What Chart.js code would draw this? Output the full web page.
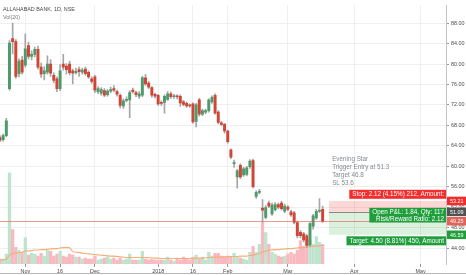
<!DOCTYPE html>
<html lang="en">
<head>
  <meta charset="UTF-8" />
  <title>ALLAHABAD BANK, 1D, NSE</title>
  <script src="https://cdn.jsdelivr.net/npm/chart.js"></script>
  <style>
    html, body { margin: 0; padding: 0; background: #fff; }
    .wrap { width: 466px; height: 275px; }
  </style>
</head>
<body>
<div class="wrap"><canvas id="chart" width="466" height="275"></canvas></div>

<script>
  // Trading sessions shown on the time axis (past bars + projected future bars)
  const tradingDays = [
    ['2017-10', [19, 23, 24, 25, 26, 27, 30, 31]],
    ['2017-11', [1, 2, 3, 6, 7, 8, 9, 10, 13, 14, 15, 16, 17, 20, 21, 22, 23, 24, 27, 28, 29, 30]],
    ['2017-12', [1, 4, 5, 6, 7, 8, 11, 12, 13, 14, 15, 18, 19, 20, 21, 22, 26, 27, 28, 29]],
    ['2018-01', [1, 2, 3, 4, 5, 8, 9, 10, 11, 12, 15, 16, 17, 18, 19, 22, 23, 24, 25, 29, 30, 31]],
    ['2018-02', [1, 2, 5, 6, 7, 8, 9, 12, 14, 15, 16, 19, 20, 21, 22, 23, 26, 27, 28]],
    ['2018-03', [1, 5, 6, 7, 8, 9, 12, 13, 14, 15, 16, 19, 20, 21, 22, 23, 26, 27, 28, 29, 30]],
    ['2018-04', [2, 3, 4, 5, 6, 9, 10, 11, 12, 13, 16, 17, 18, 19, 20, 23, 24, 25, 26, 27, 30]],
    ['2018-05', [1, 2, 3, 4, 7, 8, 9, 10, 11]]
  ];

  const tickDates = ['2017-11-01', '2017-11-16', '2017-12-01', '2018-01-01', '2018-01-16', '2018-02-01', '2018-03-01', '2018-04-02', '2018-05-01'];
  const tickTexts = ['Nov', '16', 'Dec', '2018', '16', 'Feb', 'Mar', 'Apr', 'May'];
  const priceTicks = [44, 48, 52, 56, 60, 64, 68, 72, 76, 80, 84, 88];

  // OHLC, one value per session starting 2017-10-19
  const opens = [65.6, 65.2, 66.0, 75.2, 85.0, 84.4, 78.1, 80.8, 79.8, 83.6,
    81.5, 81.9, 82.9, 79.4, 78.1, 78.4, 80.0, 77.8, 77.1, 75.2,
    80.0, 79.6, 80.0, 78.7, 78.3, 78.9, 78.4, 79.0, 78.4, 77.1,
    77.5, 74.6, 74.3, 74.8, 74.0, 74.7, 75.2, 74.6, 73.9, 71.8,
    72.9, 73.0, 74.9, 74.4, 73.7, 73.9, 77.3, 76.3, 75.4, 74.1,
    73.9, 72.5, 72.5, 73.1, 74.2, 73.6, 73.8, 73.7, 72.6, 72.3,
    72.0, 72.2, 68.8, 73.0, 70.2, 70.6, 70.9, 72.6, 73.9, 70.6,
    68.5, 68.2, 66.9, 63.2, 60.5, 57.9, 60.2, 58.3, 58.4, 59.9,
    61.1, 54.1, 54.9, 51.8, 50.0, 52.8, 50.7, 51.5, 52.5, 52.8,
    51.2, 52.0, 51.1, 50.9, 49.0, 47.1, 46.8, 46.4, 44.6, 48.3,
    49.9, 51.2, 51.6];
  const highs = [66.0, 66.3, 69.4, 84.6, 88.0, 84.8, 81.0, 81.5, 85.9, 84.3,
    82.6, 83.3, 83.5, 80.2, 79.5, 81.6, 80.9, 78.3, 77.5, 79.9,
    81.9, 80.1, 80.6, 79.0, 79.2, 79.4, 79.2, 79.4, 78.7, 77.5,
    77.8, 75.6, 75.4, 75.2, 75.0, 75.5, 75.8, 74.9, 74.2, 73.2,
    73.6, 74.8, 75.3, 74.7, 74.6, 77.6, 78.0, 76.6, 75.6, 74.3,
    74.1, 72.8, 74.0, 74.6, 74.5, 74.1, 74.0, 74.0, 72.9, 72.6,
    72.2, 72.4, 72.3, 73.3, 71.2, 71.2, 73.2, 73.8, 74.2, 70.9,
    68.8, 68.4, 67.1, 63.4, 61.2, 59.4, 60.5, 59.8, 60.0, 61.3,
    61.4, 55.2, 55.5, 53.5, 52.3, 53.2, 52.8, 52.9, 52.8, 53.2,
    52.6, 52.3, 51.4, 51.2, 49.3, 47.4, 47.1, 46.7, 49.0, 50.6,
    51.6, 53.7, 52.2];
  const lows = [64.8, 64.9, 65.8, 74.9, 82.0, 77.2, 77.5, 78.0, 79.4, 81.0,
    80.8, 81.4, 79.0, 77.4, 76.9, 78.0, 77.6, 76.3, 74.6, 74.8,
    78.8, 78.0, 77.9, 76.1, 78.0, 77.6, 78.0, 77.8, 77.2, 76.2,
    74.4, 74.2, 73.9, 73.6, 73.7, 74.4, 74.6, 73.7, 71.4, 71.3,
    72.6, 69.5, 74.3, 73.6, 73.3, 73.6, 75.8, 75.2, 73.5, 73.4,
    71.9, 71.9, 70.4, 72.9, 73.3, 73.3, 73.2, 71.7, 71.8, 71.5,
    71.5, 68.4, 67.7, 69.8, 69.9, 70.3, 70.6, 72.3, 70.2, 68.3,
    67.9, 66.5, 64.5, 61.5, 59.8, 55.7, 57.6, 58.0, 58.1, 59.6,
    55.7, 53.7, 54.6, 49.0, 49.7, 51.9, 50.4, 51.2, 51.7, 51.4,
    50.9, 51.3, 50.2, 48.7, 46.0, 46.0, 45.2, 44.1, 44.3, 47.7,
    49.6, 50.9, 49.0];
  const closes = [65.1, 66.0, 68.9, 84.1, 84.4, 77.6, 80.6, 78.4, 83.0, 81.5,
    81.9, 82.9, 79.4, 78.0, 78.7, 80.0, 78.2, 76.8, 75.2, 78.7,
    79.4, 78.9, 78.3, 78.2, 78.6, 78.5, 78.8, 78.1, 77.5, 76.6,
    74.9, 75.2, 75.0, 73.9, 74.7, 75.0, 74.9, 74.1, 71.9, 72.8,
    73.1, 74.4, 74.6, 74.0, 74.2, 77.3, 76.1, 75.5, 73.9, 73.7,
    72.2, 72.3, 73.7, 74.2, 73.6, 73.8, 73.6, 72.4, 72.1, 71.8,
    71.8, 68.7, 72.0, 70.2, 70.9, 70.9, 73.0, 73.5, 70.4, 68.6,
    68.2, 66.9, 64.8, 61.8, 60.7, 59.1, 57.9, 59.5, 59.7, 61.0,
    56.0, 54.9, 55.1, 51.4, 51.9, 52.2, 52.4, 52.5, 52.0, 51.7,
    52.2, 51.6, 50.5, 49.0, 46.4, 46.4, 45.6, 44.5, 48.8, 50.3,
    51.2, 51.4, 49.25];

  // Volume (lakh shares) and its 20-day average as drawn
  const volumes = [15, 15, 30, 279, 105, 51, 42, 36, 81, 27,
    33, 30, 24, 33, 24, 42, 39, 24, 30, 39,
    24, 21, 30, 27, 21, 21, 15, 18, 15, 15,
    24, 12, 15, 18, 21, 15, 18, 12, 18, 12,
    15, 30, 12, 12, 12, 39, 15, 12, 15, 12,
    12, 12, 12, 21, 12, 9, 18, 12, 21, 15,
    12, 21, 27, 15, 21, 12, 36, 24, 33, 33,
    24, 21, 24, 21, 33, 21, 18, 15, 12, 36,
    54, 36, 60, 126, 96, 60, 36, 30, 24, 21,
    24, 30, 36, 30, 42, 72, 54, 78, 72, 60,
    84, 66, 60];
  const volumeMA = [12, 13, 14, 27, 32, 33, 35, 36, 40, 40,
    41, 43, 43, 44, 44, 45, 46, 47, 47, 49,
    50, 50, 50, 38, 36, 35, 33, 32, 31, 30,
    29, 28, 27, 26, 25, 24, 24, 23, 22, 21,
    20, 20, 20, 20, 20, 20, 20, 19, 19, 18,
    18, 17, 17, 17, 17, 17, 17, 17, 17, 17,
    17, 17, 18, 18, 18, 19, 20, 20, 21, 21,
    22, 22, 22, 23, 23, 23, 24, 24, 24, 26,
    27, 30, 32, 37, 40, 42, 43, 44, 44, 45,
    46, 47, 47, 48, 49, 50, 50, 52, 53, 54,
    55, 56, 57];

  // Long/short position tool
  const positionStart = '2018-03-21';
  const entryPrice = 51.09;
  const stopPrice = 53.21;
  const targetPrice = 46.59;
  const noteDate = '2018-03-22';
  const notePrice = 61.34;
  const noteLines = ['Evening Star', 'Trigger Entry at 51.3', 'Target 46.8', 'SL 53.6'];

  const labels = [];
  tradingDays.forEach(([month, days]) => {
    days.forEach(d => labels.push(month + '-' + String(d).padStart(2, '0')));
  });

  const FONT = "'Liberation Sans', Arial, sans-serif";
  const upColor = '#4f9a6c';
  const downColor = '#cf4636';
  const isUp = opens.map((o, i) => closes[i] >= o);
  const lastClose = closes[closes.length - 1];

  const overlay = {
    id: 'overlay',
    beforeDatasetsDraw(chart) {
      const { ctx, chartArea: a, scales: { x, y } } = chart;
      const x0 = x.getPixelForValue(labels.indexOf(positionStart));
      const yS = y.getPixelForValue(stopPrice);
      const yE = y.getPixelForValue(entryPrice);
      const yT = y.getPixelForValue(targetPrice);
      ctx.save();
      ctx.fillStyle = 'rgba(245, 70, 70, 0.22)';
      ctx.fillRect(x0, yS, a.right - x0, yE - yS);
      ctx.fillStyle = 'rgba(40, 170, 60, 0.17)';
      ctx.fillRect(x0, yE, a.right - x0, yT - yE);
      ctx.strokeStyle = '#8a8a8a';
      ctx.lineWidth = 1;
      ctx.beginPath();
      ctx.moveTo(x0, Math.round(yE) + 0.5);
      ctx.lineTo(a.right, Math.round(yE) + 0.5);
      ctx.stroke();
      ctx.restore();
    },
    afterDatasetsDraw(chart) {
      const { ctx, chartArea: a, scales: { y } } = chart;
      const yP = Math.round(y.getPixelForValue(lastClose)) + 0.5;
      ctx.save();
      ctx.strokeStyle = 'rgba(230, 95, 85, 0.65)';
      ctx.lineWidth = 1;
      ctx.beginPath();
      ctx.moveTo(a.left, yP);
      ctx.lineTo(a.right, yP);
      ctx.stroke();
      ctx.restore();
    },
    afterDraw(chart) {
      const { ctx, chartArea: a, scales: { x, y } } = chart;
      ctx.save();

      // header
      ctx.textBaseline = 'middle';
      ctx.textAlign = 'left';
      ctx.font = '5.4px ' + FONT;
      ctx.fillStyle = '#4b4b4b';
      ctx.fillText('ALLAHABAD BANK, 1D, NSE', 3, 9.2);
      ctx.fillStyle = '#7a7a7a';
      ctx.fillText('Vol(20)', 3, 18);

      // pattern note
      ctx.font = '6.3px ' + FONT;
      ctx.fillStyle = '#858a93';
      const nx = x.getPixelForValue(labels.indexOf(noteDate));
      const ny = y.getPixelForValue(notePrice);
      noteLines.forEach((t, i) => ctx.fillText(t, nx, ny + i * 7.9));

      // position labels, clipped to the pane
      ctx.save();
      ctx.beginPath();
      ctx.rect(a.left, a.top, a.right - a.left, a.bottom - a.top);
      ctx.clip();
      const yS = y.getPixelForValue(stopPrice);
      const yE = y.getPixelForValue(entryPrice);
      const yT = y.getPixelForValue(targetPrice);
      const box = (lines, bg, top, h) => {
        const w = Math.max(...lines.map(t => ctx.measureText(t).width)) + 5;
        ctx.fillStyle = bg;
        ctx.fillRect(a.right - w, top, w, h);
        ctx.fillStyle = '#ffffff';
        ctx.textAlign = 'right';
        const step = h / lines.length;
        lines.forEach((t, i) => ctx.fillText(t, a.right - 2, top + step * (i + 0.5) + 0.3));
      };
      ctx.font = '6.3px ' + FONT;
      box(['Stop: 2.12 (4.15%) 212, Amount:'], '#f42c2c', yS - 11.2, 9);
      box(['Open P&L: 1.84, Qty: 117', 'Risk/Reward Ratio: 2.12'], '#1f9e3b', yE - 4, 14.7);
      box(['Target: 4.50 (8.81%) 450, Amount'], '#1f9e3b', yT + 1.5, 9);
      ctx.restore();

      // price tags on the axis
      const tags = [
        [stopPrice, '#f42c2c'],
        [entryPrice, '#525252'],
        [lastClose, '#e0645a'],
        [targetPrice, '#1f9e3b']
      ];
      ctx.font = '5.4px ' + FONT;
      ctx.textAlign = 'left';
      tags.forEach(([v, bg]) => {
        const py = y.getPixelForValue(v);
        ctx.fillStyle = bg;
        ctx.fillRect(a.right + 1, py - 4.3, chart.width - a.right - 1, 8.6);
        ctx.fillStyle = '#ffffff';
        ctx.fillText(v.toFixed(2), a.right + 4, py + 0.3);
      });

      // bottom frame
      ctx.strokeStyle = '#b8b8b8';
      ctx.lineWidth = 1;
      ctx.beginPath();
      ctx.moveTo(0, chart.height - 1.5);
      ctx.lineTo(chart.width, chart.height - 1.5);
      ctx.stroke();
      ctx.restore();
    }
  };

  new Chart(document.getElementById('chart'), {
    data: {
      labels: labels,
      datasets: [
        {
          type: 'bar',
          data: opens.map((o, i) => [o, closes[i]]),
          backgroundColor: isUp.map(u => (u ? upColor : downColor)),
          barThickness: 2.3,
          minBarLength: 1,
          grouped: false,
          yAxisID: 'y',
          order: 1
        },
        {
          type: 'bar',
          data: lows.map((l, i) => [l, highs[i]]),
          backgroundColor: '#a6a6a6',
          barThickness: 1,
          grouped: false,
          yAxisID: 'y',
          order: 2
        },
        {
          type: 'line',
          data: volumeMA,
          borderColor: '#f6ad76',
          borderWidth: 1.1,
          pointRadius: 0,
          tension: 0.2,
          yAxisID: 'yVol',
          order: 3
        },
        {
          type: 'bar',
          data: volumes,
          backgroundColor: isUp.map(u => (u ? '#bee4cd' : '#f8b9c0')),
          barThickness: 2.6,
          grouped: false,
          yAxisID: 'yVol',
          order: 4
        }
      ]
    },
    options: {
      responsive: false,
      animation: false,
      layout: { padding: 0 },
      plugins: { legend: { display: false }, tooltip: { enabled: false } },
      scales: {
        x: {
          type: 'category',
          offset: false,
          grid: { offset: false, color: '#efefef', tickLength: 3, tickColor: '#9a9a9a' },
          border: { display: false },
          ticks: {
            autoSkip: false,
            maxRotation: 0,
            padding: 1,
            color: '#4b4b4b',
            font: { size: 5.4, family: FONT },
            callback(value) {
              const k = tickDates.indexOf(this.getLabelForValue(value));
              return k >= 0 ? tickTexts[k] : null;
            }
          },
          afterFit(scale) { scale.height = 11; }
        },
        y: {
          position: 'right',
          min: 40.88,
          max: 91.51,
          grid: { color: '#efefef', tickLength: 3, tickColor: '#9a9a9a' },
          border: { display: true, color: '#c4c4c4' },
          ticks: {
            padding: 2,
            color: '#4b4b4b',
            font: { size: 5.4, family: FONT },
            callback: v => v.toFixed(2)
          },
          afterBuildTicks(scale) { scale.ticks = priceTicks.map(v => ({ value: v })); },
          afterFit(scale) { scale.width = 20; }
        },
        yVol: {
          display: false,
          min: 0,
          max: 792,
          grid: { display: false }
        }
      }
    },
    plugins: [overlay]
  });
</script>

</body>
</html>
